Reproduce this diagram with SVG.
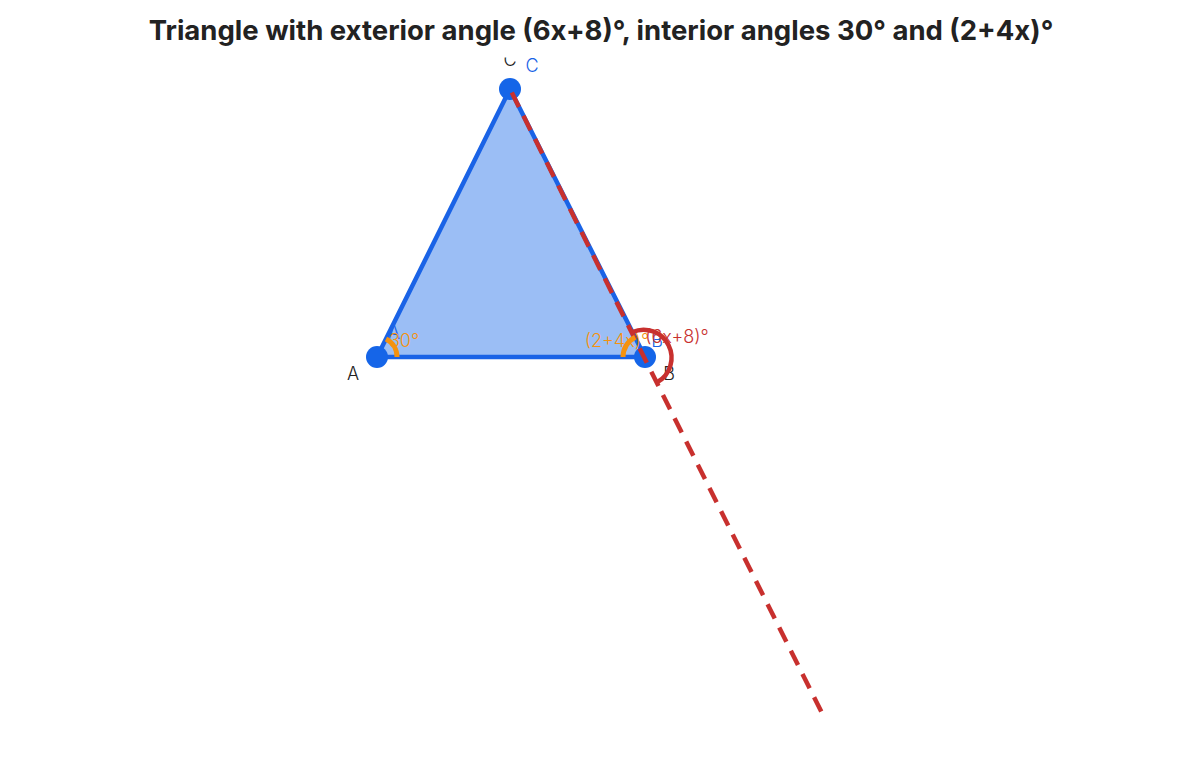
<svg xmlns="http://www.w3.org/2000/svg" width="1200" height="763" viewBox="0 0 1200 763">
  <defs>
    <style>
      .title { font-family: Inter, "Noto Sans", sans-serif; font-weight: 700; font-size: 27.5px; fill: #222222; }
      .lbl { font-family: Inter, "Noto Sans", sans-serif; font-weight: 300; font-size: 18px; }
      .blk { fill: #222222; }
      .blu { fill: #1a63e6; }
      .org { fill: #f5920f; }
      .red { fill: #c8302e; }
      .dot { fill: #1565e8; }
      .tri { fill: #9bbef5; stroke: #1a63e6; stroke-width: 4.5; stroke-linejoin: round; }
      .ext { fill: none; stroke: #c8302e; stroke-width: 4.5; stroke-dasharray: 16 10; }
      .arcO { fill: none; stroke: #f5920f; stroke-width: 5; }
      .arcR { fill: none; stroke: #c8302e; stroke-width: 4.5; }
    </style>
    <clipPath id="clipC"><rect x="490" y="57.5" width="40" height="20"/></clipPath>
  </defs>
  <rect width="1200" height="763" fill="#ffffff"/>
  <text class="title" x="601" y="40" text-anchor="middle">Triangle with exterior angle (6x+8)°, interior angles 30° and (2+4x)°</text>

  <g id="triangle">
    <polygon class="tri" points="377,357 645,357 510,89"/>
  </g>

  <g id="node-A">
    <circle class="dot" cx="377" cy="357" r="11"/>
    <text class="lbl blk" x="353" y="380" text-anchor="middle">A</text>
    <text class="lbl blu" x="394" y="339" text-anchor="middle" font-size="16">A</text>
  </g>
  <g id="node-B">
    <circle class="dot" cx="645" cy="357" r="11"/>
    <text class="lbl blk" x="669" y="380" text-anchor="middle">B</text>
    <text class="lbl blu" x="657" y="347" text-anchor="middle" font-size="16">B</text>
  </g>
  <g id="node-C">
    <circle class="dot" cx="510" cy="89" r="11"/>
    <text class="lbl blu" x="532" y="72" text-anchor="middle" font-size="17">C</text>
    <text class="lbl blk" x="510" y="66" text-anchor="middle" clip-path="url(#clipC)">C</text>
  </g>

  <g id="connectors">
    <line class="ext" x1="510" y1="89" x2="822" y2="713" stroke-dashoffset="-4"/>
  </g>

  <g id="angle-A">
    <path class="arcO" d="M 397 357 A 20 20 0 0 0 386 339.1"/>
    <text class="lbl org" x="404" y="347" text-anchor="middle" font-size="17">30°</text>
  </g>
  <g id="angle-B-interior">
    <path class="arcO" d="M 623 357 A 22 22 0 0 1 635.2 337.3"/>
    <text class="lbl org" x="617" y="347" text-anchor="middle" font-size="17">(2+4x)°</text>
  </g>
  <g id="angle-B-exterior">
    <path class="arcR" d="M 632.5 332 A 28 28 0 0 1 657.5 382"/>
    <text class="lbl red" x="677" y="343" text-anchor="middle" font-size="17">(6x+8)°</text>
  </g>
</svg>
